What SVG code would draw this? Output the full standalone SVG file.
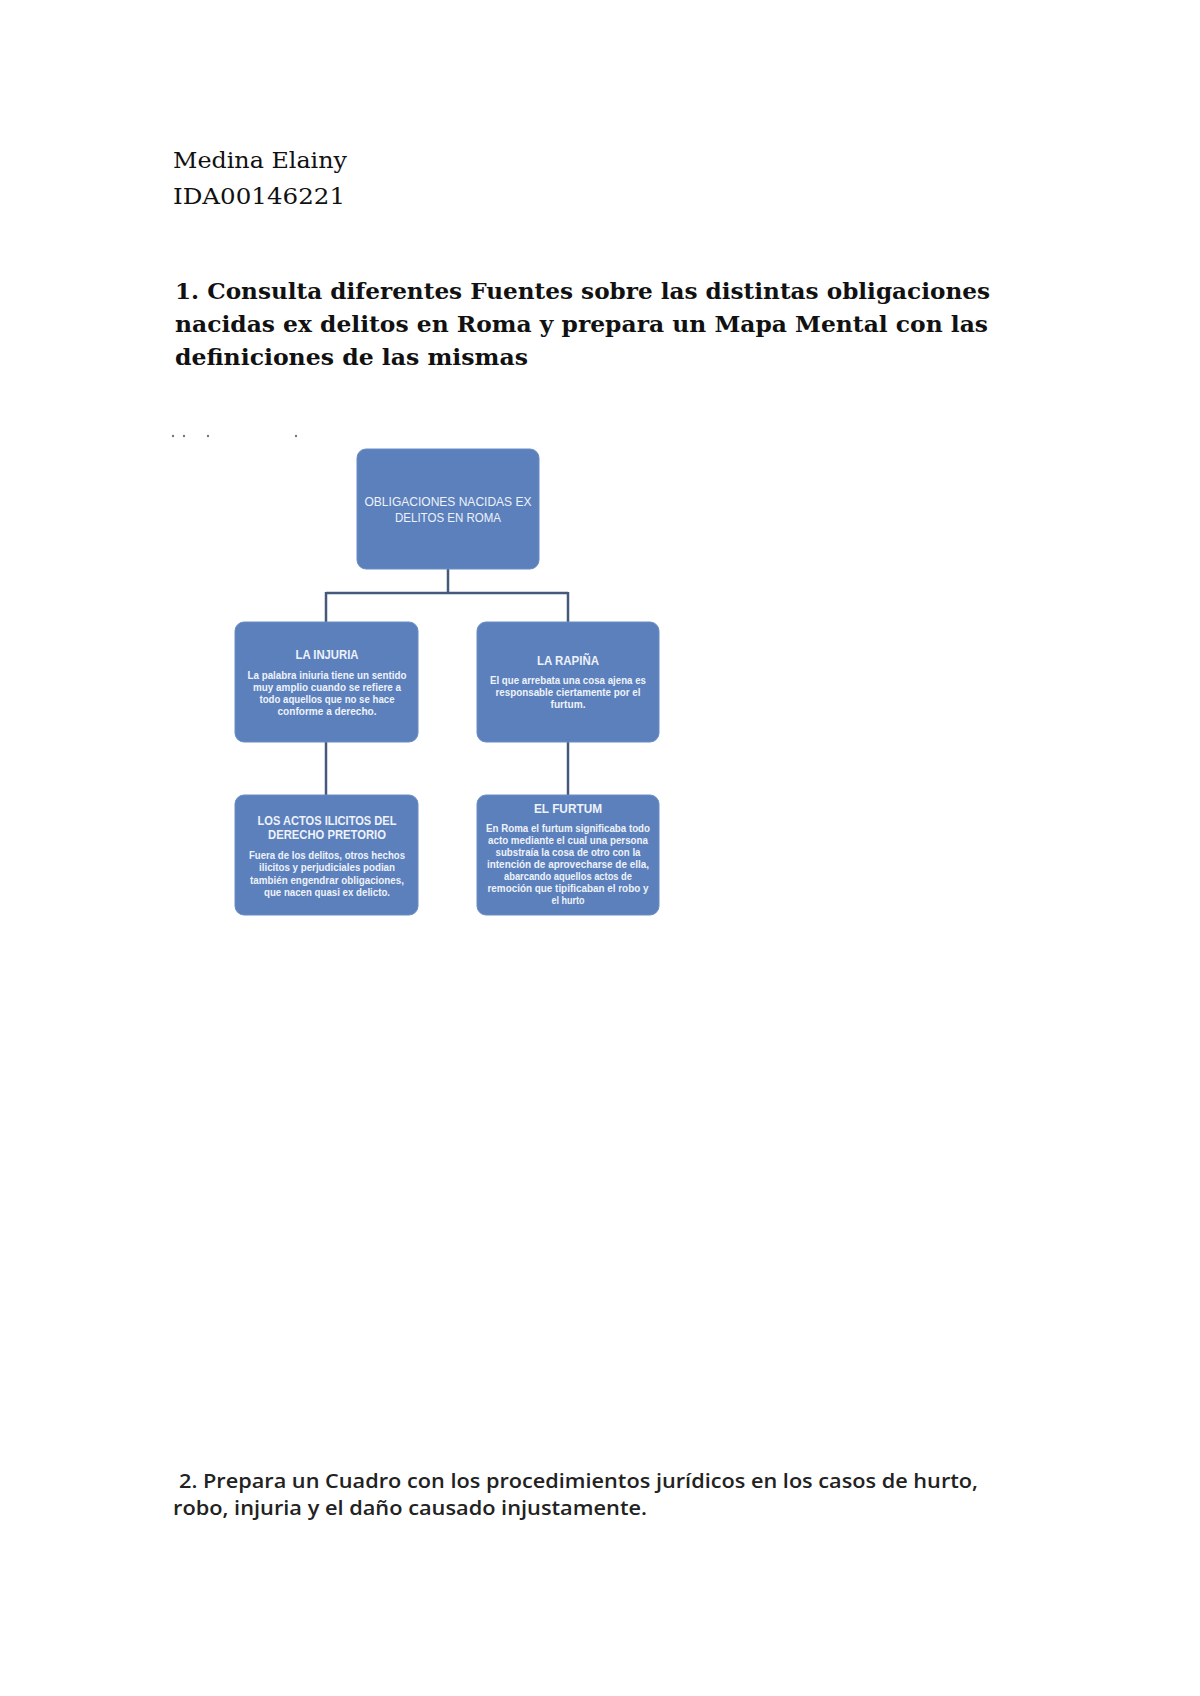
<svg xmlns="http://www.w3.org/2000/svg" width="1200" height="1696" viewBox="0 0 1200 1696">
<style>
.hdr{font-family:"DejaVu Serif","Liberation Serif",serif;font-size:22px;fill:#111}
.hb{font-weight:bold}
.p2{font-family:"Open Sans","Liberation Sans",sans-serif;font-size:19px;font-weight:600;fill:#222}
.box{fill:#5b80bc;stroke:#6a8cc4;stroke-width:1}
.top{font-family:"Liberation Sans","Open Sans",sans-serif;font-size:13px;fill:#eef2fa;text-anchor:middle}
.ttl{font-family:"Liberation Sans","Open Sans",sans-serif;font-size:12.5px;font-weight:bold;fill:#eef2fa;text-anchor:middle}
.bd{font-family:"Liberation Sans","Open Sans",sans-serif;font-size:10px;font-weight:bold;fill:#eef2fa;text-anchor:middle}
.con{fill:none;stroke:#44597c;stroke-width:2.5}
</style>
<rect width="1200" height="1696" fill="#ffffff"/>
<g id="header">
<text class="hdr" x="173" y="168" textLength="174" lengthAdjust="spacingAndGlyphs">Medina Elainy</text>
<text class="hdr" x="173" y="204" textLength="172" lengthAdjust="spacingAndGlyphs">IDA00146221</text>
<text class="hdr hb" x="175" y="299" textLength="815" lengthAdjust="spacingAndGlyphs">1. Consulta diferentes Fuentes sobre las distintas obligaciones</text>
<text class="hdr hb" x="175" y="332" textLength="813" lengthAdjust="spacingAndGlyphs">nacidas ex delitos en Roma y prepara un Mapa Mental con las</text>
<text class="hdr hb" x="175" y="365" textLength="353" lengthAdjust="spacingAndGlyphs">definiciones de las mismas</text>
</g>
<g id="dots" fill="#777">
<circle cx="173" cy="436" r="1.2"/><circle cx="184" cy="436" r="1.2"/><circle cx="208" cy="436" r="1.2"/><circle cx="296" cy="436" r="1.2"/>
</g>
<g id="connectors">
<path class="con" d="M448 569 V593 M326 593 H568 M326 592 V622 M568 592 V622"/>
<path class="con" d="M326 742 V795"/>
<path class="con" d="M568 742 V795"/>
</g>
<g id="root">
<rect class="box" x="357" y="449" width="182" height="120" rx="9"/>
<text class="top" x="448" y="506" textLength="167" lengthAdjust="spacingAndGlyphs">OBLIGACIONES NACIDAS EX</text>
<text class="top" x="448" y="522" textLength="106" lengthAdjust="spacingAndGlyphs">DELITOS EN ROMA</text>
</g>
<g id="injuria">
<rect class="box" x="235" y="622" width="183" height="120" rx="9"/>
<text class="ttl" x="327" y="659" textLength="63" lengthAdjust="spacingAndGlyphs">LA INJURIA</text>
<text class="bd" x="327" y="679" textLength="159" lengthAdjust="spacingAndGlyphs">La palabra iniuria tiene un sentido</text>
<text class="bd" x="327" y="691" textLength="148" lengthAdjust="spacingAndGlyphs">muy amplio cuando se refiere a</text>
<text class="bd" x="327" y="703" textLength="135" lengthAdjust="spacingAndGlyphs">todo aquellos que no se hace</text>
<text class="bd" x="327" y="715" textLength="99" lengthAdjust="spacingAndGlyphs">conforme a derecho.</text>
</g>
<g id="rapina">
<rect class="box" x="477" y="622" width="182" height="120" rx="9"/>
<text class="ttl" x="568" y="665" textLength="62" lengthAdjust="spacingAndGlyphs">LA RAPIÑA</text>
<text class="bd" x="568" y="684" textLength="156" lengthAdjust="spacingAndGlyphs">El que arrebata una cosa ajena es</text>
<text class="bd" x="568" y="696" textLength="145" lengthAdjust="spacingAndGlyphs">responsable ciertamente por el</text>
<text class="bd" x="568" y="708" textLength="35" lengthAdjust="spacingAndGlyphs">furtum.</text>
</g>
<g id="actos">
<rect class="box" x="235" y="795" width="183" height="120" rx="9"/>
<text class="ttl" x="327" y="825" textLength="139" lengthAdjust="spacingAndGlyphs">LOS ACTOS ILICITOS DEL</text>
<text class="ttl" x="327" y="839" textLength="118" lengthAdjust="spacingAndGlyphs">DERECHO PRETORIO</text>
<text class="bd" x="327" y="859" textLength="156" lengthAdjust="spacingAndGlyphs">Fuera de los delitos, otros hechos</text>
<text class="bd" x="327" y="871" textLength="136" lengthAdjust="spacingAndGlyphs">ilicitos y perjudiciales podian</text>
<text class="bd" x="327" y="884" textLength="154" lengthAdjust="spacingAndGlyphs">también engendrar obligaciones,</text>
<text class="bd" x="327" y="896" textLength="126" lengthAdjust="spacingAndGlyphs">que nacen quasi ex delicto.</text>
</g>
<g id="furtum">
<rect class="box" x="477" y="795" width="182" height="120" rx="9"/>
<text class="ttl" x="568" y="813" textLength="68" lengthAdjust="spacingAndGlyphs">EL FURTUM</text>
<text class="bd" x="568" y="832" textLength="164" lengthAdjust="spacingAndGlyphs">En Roma el furtum significaba todo</text>
<text class="bd" x="568" y="844" textLength="160" lengthAdjust="spacingAndGlyphs">acto mediante el cual una persona</text>
<text class="bd" x="568" y="856" textLength="145" lengthAdjust="spacingAndGlyphs">substraía la cosa de otro con la</text>
<text class="bd" x="568" y="868" textLength="162" lengthAdjust="spacingAndGlyphs">intención de aprovecharse de ella,</text>
<text class="bd" x="568" y="880" textLength="128" lengthAdjust="spacingAndGlyphs">abarcando aquellos actos de</text>
<text class="bd" x="568" y="892" textLength="161" lengthAdjust="spacingAndGlyphs">remoción que tipificaban el robo y</text>
<text class="bd" x="568" y="904" textLength="33" lengthAdjust="spacingAndGlyphs">el hurto</text>
</g>
<g id="part2">
<text class="p2" x="179" y="1488" textLength="799" lengthAdjust="spacingAndGlyphs">2. Prepara un Cuadro con los procedimientos jurídicos en los casos de hurto,</text>
<text class="p2" x="173" y="1515" textLength="474" lengthAdjust="spacingAndGlyphs">robo, injuria y el daño causado injustamente.</text>
</g>
</svg>
